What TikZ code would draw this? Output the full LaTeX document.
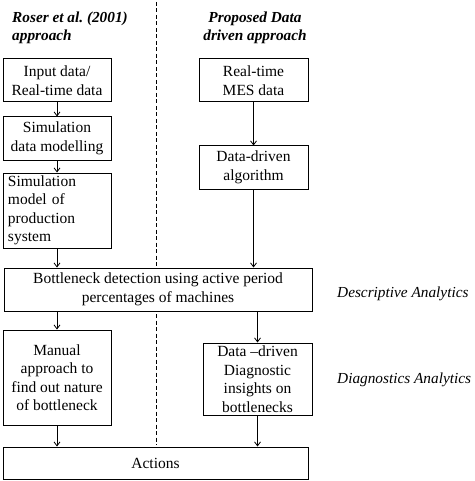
\documentclass[tikz,border=0pt]{standalone}
\usepackage{fontspec}
\setmainfont{Liberation Serif}
\usetikzlibrary{arrows.meta}
\begin{document}
\begin{tikzpicture}[x=1pt,y=-1pt,
  box/.style={draw, line width=1pt, fill=white, inner sep=0pt, align=center,
    font=\fontsize{15.5}{18.5}\selectfont},
  ttl/.style={inner sep=0pt, font=\fontsize{15.3}{18}\selectfont\bfseries\itshape},
  lab/.style={inner sep=0pt, anchor=west, font=\fontsize{15.3}{18.5}\selectfont\itshape},
  arr/.style={-{Straight Barb[length=4pt,width=6pt]}, line width=0.8pt},
  sep/.style={dashed, dash pattern=on 4pt off 2.5pt, line width=0.7pt}]
\useasboundingbox (0,0) rectangle (474,481);
\fill[white] (0,0) rectangle (474,481);
% separator
\coordinate (dtop) at (156,2);
\coordinate (dbot) at (156,445);
\draw[sep] (dtop) -- (dbot);
% titles
\node[ttl, anchor=west, align=left] (t1) at (12,28) {Roser et al.\ (2001)\\approach};
\node[ttl, align=center] (t2) at (255,28) {Proposed Data\\driven approach};
% left column
\node[box, minimum width=108pt, minimum height=43pt] (b1) at (57,80.5) {Input data/\\Real-time data};
\node[box, minimum width=108pt, minimum height=43pt] (b2) at (57,138.5) {Simulation\\data modelling};
\node[box, minimum width=108pt, minimum height=75pt, text width=98pt, align=left] (b3) at (57,210.5) {Simulation\\model of\\production\\system};
% right column
\node[box, minimum width=109pt, minimum height=43pt] (r1) at (253.5,80.5) {Real-time\\MES data};
\node[box, minimum width=109pt, minimum height=43pt] (r2) at (253.5,167.5) {Data-driven\\algorithm};
% bottleneck
\node[box, minimum width=308pt, minimum height=43pt] (bn) at (158,289.5) {Bottleneck detection using active period\\percentages of machines};
\node[box, minimum width=108pt, minimum height=95pt] (man) at (57,377.5) {Manual\\approach to\\find out nature\\of bottleneck};
\node[box, minimum width=109pt, minimum height=72pt] (diag) at (257.5,379) {Data --driven\\Diagnostic\\insights on\\bottlenecks};
\node[box, minimum width=305pt, minimum height=32pt] (act) at (155.5,463) {Actions};
% side labels
\node[lab] (desc) at (337,294) {Descriptive Analytics};
\node[lab] (dia) at (337,380) {Diagnostics Analytics};
% arrows
\draw[arr] (b1.south) -- (b2.north);
\draw[arr] (b2.south) -- (b3.north);
\draw[arr] (b3.south) -- (b3.south |- bn.north);
\draw[arr] (r1.south) -- (r2.north);
\draw[arr] (r2.south) -- (r2.south |- bn.north);
\draw[arr] (bn.south -| man.north) -- (man.north);
\draw[arr] (bn.south -| diag.north) -- (diag.north);
\draw[arr] (man.south) -- (man.south |- act.north);
\draw[arr] (diag.south) -- (diag.south |- act.north);
\end{tikzpicture}
\end{document}
